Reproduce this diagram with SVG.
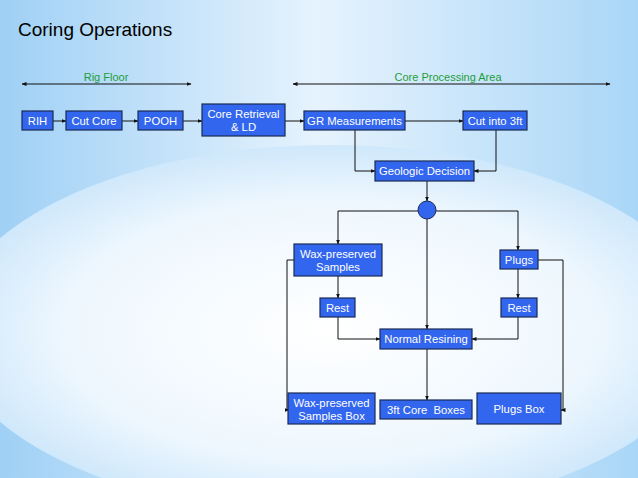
<svg xmlns="http://www.w3.org/2000/svg" width="638" height="478" viewBox="0 0 638 478">
<defs>
<linearGradient id="bg" x1="0" y1="0" x2="1" y2="0"><stop offset="0" stop-color="#9fd0f5"/><stop offset="0.5" stop-color="#e6f3fd"/><stop offset="1" stop-color="#a9d6f7"/></linearGradient>
<radialGradient id="el" cx="0.5" cy="0.5" r="0.5"><stop offset="0" stop-color="#ffffff"/><stop offset="0.7" stop-color="#eef7fe"/><stop offset="1" stop-color="#cfe8fb"/></radialGradient>
<marker id="a" viewBox="0 0 10 10" refX="9" refY="5" markerWidth="5" markerHeight="5" orient="auto-start-reverse"><path d="M0,1L10,5L0,9z" fill="#111"/></marker>
</defs>
<style>
.b{fill:#3366ee;stroke:#1a2a55;stroke-width:1.2}
.t{font-family:"Liberation Sans",Arial,sans-serif;font-size:11.3px;fill:#fff;text-anchor:middle;white-space:pre}
.g{font-family:"Liberation Sans",Arial,sans-serif;font-size:11px;fill:#1e9e3a;text-anchor:middle}
#c path,#c line{stroke:#111;stroke-width:1;fill:none;marker-end:url(#a)}
</style>
<rect width="638" height="478" fill="url(#bg)"/>
<ellipse cx="330" cy="330" rx="380" ry="185" fill="url(#el)"/>
<text x="18" y="36" font-family="Liberation Sans,Arial,sans-serif" font-size="19" fill="#000">Coring Operations</text>
<text class="g" x="106" y="81">Rig Floor</text>
<text class="g" x="448" y="81">Core Processing Area</text>
<g id="c">
<line x1="22" y1="84" x2="191" y2="84" marker-start="url(#a)"/>
<line x1="293" y1="84" x2="610" y2="84" marker-start="url(#a)"/>
<line x1="53" y1="121" x2="66" y2="121"/>
<line x1="122" y1="121" x2="138" y2="121"/>
<line x1="183" y1="121" x2="202" y2="121"/>
<line x1="285" y1="121" x2="304" y2="121"/>
<line x1="405" y1="121" x2="463" y2="121"/>
<path d="M355,130V171H375"/>
<path d="M496,130V171H474"/>
<line x1="427" y1="181" x2="427" y2="201"/>
<path d="M418,211H338V244"/>
<path d="M436,211H518V250"/>
<line x1="427" y1="219" x2="427" y2="329"/>
<line x1="338" y1="276" x2="338" y2="298"/>
<line x1="518" y1="269" x2="518" y2="298"/>
<path d="M338,317V339H380"/>
<path d="M518,317V339H472"/>
<path d="M294,260H287V410H289"/>
<path d="M538,260H563V410H561"/>
<line x1="427" y1="349" x2="427" y2="400"/>
</g>
<g id="rih"><rect class="b" x="22" y="111" width="31" height="19"/><text class="t" x="37.5" y="125">RIH</text></g>
<g id="cut"><rect class="b" x="66" y="111" width="56" height="19"/><text class="t" x="94" y="125">Cut Core</text></g>
<g id="pooh"><rect class="b" x="138" y="111" width="45" height="19"/><text class="t" x="160.5" y="125">POOH</text></g>
<g id="ret"><rect class="b" x="202" y="104" width="83" height="32"/><text class="t" x="243.5" y="118">Core Retrieval</text><text class="t" x="243.5" y="131">&amp; LD</text></g>
<g id="gr"><rect class="b" x="304" y="111" width="101" height="19"/><text class="t" x="354.5" y="125">GR Measurements</text></g>
<g id="c3"><rect class="b" x="463" y="111" width="64" height="19"/><text class="t" x="495" y="125">Cut into 3ft</text></g>
<g id="geo"><rect class="b" x="375" y="161" width="99" height="20"/><text class="t" x="424.5" y="175">Geologic Decision</text></g>
<g id="dec"><circle cx="427" cy="210" r="9" fill="#3366ee" stroke="#1a2a55"/></g>
<g id="wax"><rect class="b" x="294" y="244" width="88" height="32"/><text class="t" x="338" y="258">Wax-preserved</text><text class="t" x="338" y="271">Samples</text></g>
<g id="plugs"><rect class="b" x="500" y="250" width="38" height="19"/><text class="t" x="519" y="264">Plugs</text></g>
<g id="rest1"><rect class="b" x="320" y="298" width="35" height="19"/><text class="t" x="337.5" y="312">Rest</text></g>
<g id="rest2"><rect class="b" x="501" y="298" width="36" height="19"/><text class="t" x="519" y="312">Rest</text></g>
<g id="nr"><rect class="b" x="380" y="329" width="92" height="20"/><text class="t" x="426" y="343">Normal Resining</text></g>
<g id="waxbox"><rect class="b" x="288" y="393" width="87" height="31"/><text class="t" x="331.5" y="407">Wax-preserved</text><text class="t" x="331.5" y="420">Samples Box</text></g>
<g id="core3"><rect class="b" x="380" y="400" width="92" height="19"/><text class="t" x="426" y="414" xml:space="preserve">3ft Core  Boxes</text></g>
<g id="plugbox"><rect class="b" x="477" y="393" width="84" height="31"/><text class="t" x="519" y="413">Plugs Box</text></g>
</svg>
